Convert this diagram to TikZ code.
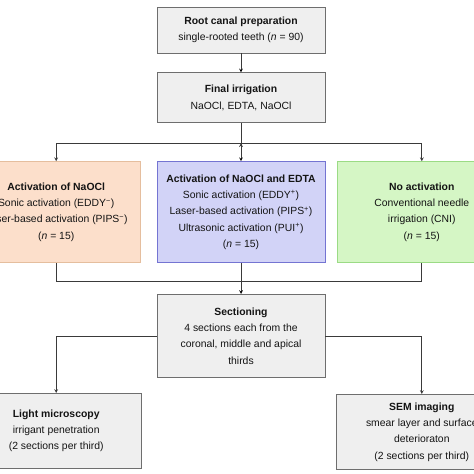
\documentclass[tikz,border=0pt]{standalone}
\usepackage{fontspec}
\setmainfont{Liberation Sans}
\usepackage{tikz}
\usetikzlibrary{positioning}
\usetikzlibrary{arrows}
\usetikzlibrary{calc}

\definecolor{boxgray}{HTML}{EFEFEF}
\definecolor{edgegray}{HTML}{6E6E6E}
\definecolor{boxpeach}{HTML}{FCDFCB}
\definecolor{edgepeach}{HTML}{E5BE9E}
\definecolor{boxlilac}{HTML}{D2D3F7}
\definecolor{edgelilac}{HTML}{7474D2}
\definecolor{boxgreen}{HTML}{D5F6C5}
\definecolor{edgegreen}{HTML}{9BDB85}
\definecolor{linegray}{HTML}{3A3A3A}

\begin{document}
\begin{tikzpicture}[
            > = stealth, % arrow head style
            x = 1pt, y = 1pt,
            semithick, % line style
            font = \fontsize{10.4}{16.3}\selectfont
        ]

        \tikzstyle{every node}=[
            draw = edgegray,
            fill = boxgray,
            line width = 0.8pt,
            text = black!92,
            align = center,
            minimum width = 168pt,
            inner sep = 0pt
        ]
        \tikzstyle{flow}=[draw = linegray, line width = 0.7pt]

  \useasboundingbox (0,0) rectangle (474,-474);
  \clip (0,0) rectangle (474,-474);

% preparation level
        \node (ROOT) [minimum height = 46pt] at (241,-30) {\textbf{Root canal preparation}\\single-rooted teeth (\textit{n} = 90)};
        \node (FINAL) [minimum height = 50pt, below = 19pt of ROOT] {\textbf{Final irrigation}\\NaOCl, EDTA, NaOCl};

% activation level
        \node (BOTH) [minimum height = 101pt, draw = edgelilac, fill = boxlilac, below = 38pt of FINAL]
            {\textbf{Activation of NaOCl and EDTA}\\Sonic activation (EDDY\textsuperscript{+})\\Laser-based activation (PIPS\textsuperscript{+})\\Ultrasonic activation (PUI\textsuperscript{+})\\(\textit{n} = 15)};
        \node (NAOCL) [minimum height = 101pt, draw = edgepeach, fill = boxpeach, left = 16pt of BOTH]
            {\textbf{Activation of NaOCl}\\Sonic activation (EDDY\textsuperscript{−})\\Laser-based activation (PIPS\textsuperscript{−})\\(\textit{n} = 15)};
        \node (NONE) [minimum height = 101pt, draw = edgegreen, fill = boxgreen, right = 12pt of BOTH]
            {\textbf{No activation}\\Conventional needle\\irrigation (CNI)\\(\textit{n} = 15)};

% evaluation level
        \node (SECTION) [minimum height = 83pt, below = 31pt of BOTH]
            {\textbf{Sectioning}\\4 sections each from the\\coronal, middle and apical\\thirds};
        \node (LIGHT) [minimum height = 75pt, minimum width = 170pt, below = 130pt of NAOCL.south]
            {\textbf{Light microscopy}\\irrigant penetration\\(2 sections per third)};
        \node (SEM) [minimum height = 75pt, minimum width = 170pt, below = 131pt of NONE.south]
            {\textbf{SEM imaging}\\smear layer and surface\\deterioraton\\(2 sections per third)};

        \coordinate (SPLIT) at ($(FINAL.south)+(0,-20)$);
        \coordinate (MERGE) at ($(BOTH.south)+(0,-18)$);

        \path[flow, ->] (ROOT) edge (FINAL);
        \draw[flow] (FINAL) -- (SPLIT);
        \draw[flow, ->] (SPLIT) -| (NAOCL);
        \draw[flow, ->] (SPLIT) -| (NONE);
        \path[flow, ->] (SPLIT) edge (BOTH);

        \draw[flow] (NAOCL) |- (MERGE);
        \draw[flow] (NONE) |- (MERGE);
        \path[flow, ->] (BOTH) edge (SECTION);

        \draw[flow, ->] (SECTION.west) -| (LIGHT);
        \draw[flow, ->] (SECTION.east) -| (SEM);

  \end{tikzpicture}
\end{document}
